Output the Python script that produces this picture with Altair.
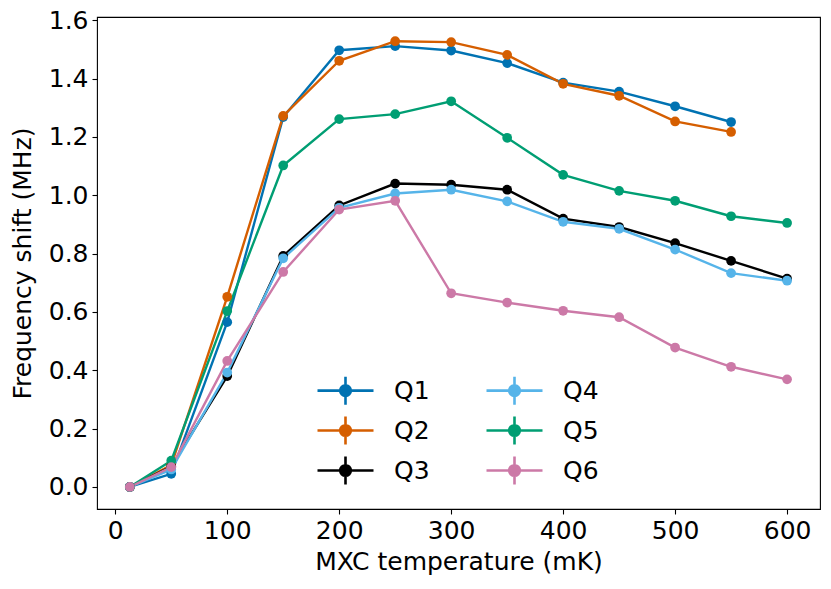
import altair as alt
import pandas as pd

temps = [13, 50, 100, 150, 200, 250, 300, 350, 400, 450, 500, 550, 600]
q1 = [0.0, 0.045, 0.565, 1.268, 1.497, 1.511, 1.496, 1.453, 1.386, 1.355, 1.305, 1.251]
q2 = [0.0, 0.075, 0.652, 1.272, 1.461, 1.528, 1.525, 1.481, 1.382, 1.341, 1.253, 1.217]
q3 = [0.0, 0.07, 0.380, 0.792, 0.965, 1.040, 1.036, 1.019, 0.920, 0.891, 0.836, 0.775, 0.714]
q4 = [0.0, 0.06, 0.392, 0.784, 0.957, 1.006, 1.019, 0.979, 0.909, 0.885, 0.814, 0.733, 0.707]
q5 = [0.0, 0.090, 0.603, 1.102, 1.261, 1.278, 1.322, 1.197, 1.070, 1.015, 0.981, 0.928, 0.905]
q6 = [0.0, 0.068, 0.432, 0.737, 0.951, 0.981, 0.664, 0.632, 0.604, 0.582, 0.478, 0.412, 0.369]

names = ["Q1", "Q2", "Q3", "Q4", "Q5", "Q6"]
colors = ["#0072B2", "#D55E00", "#000000", "#56B4E9", "#009E73", "#CC79A7"]
series = [q1, q2, q3, q4, q5, q6]

rows = []
for i, (n, vals) in enumerate(zip(names, series)):
    for j, v in enumerate(vals):
        rows.append({"T": temps[j], "shift": v, "q": n, "k": i * 100 + j})
df = pd.DataFrame(rows)

FONT = "DejaVu Sans"
scale = alt.Scale(domain=names, range=colors)
sym = ("M-2,0H2M0,-1V1M0.38,0A0.38,0.38,0,1,1,-0.38,0A0.38,0.38,0,1,1,0.38,0Z")
leg = alt.Legend(
    title=None, orient="none", legendX=233, legendY=358, columns=2,
    symbolType=sym, symbolSize=784, symbolStrokeWidth=2.6,
    labelFont=FONT, labelFontSize=25, labelColor="black", labelOffset=33,
    columnPadding=51, rowPadding=1, padding=0, symbolOpacity=1,
)

x = alt.X("T:Q", scale=alt.Scale(domain=[-16.3, 629.4], nice=False, zero=False),
          axis=alt.Axis(values=[0, 100, 200, 300, 400, 500, 600],
                        title="MXC temperature (mK)", format="d"))
y = alt.Y("shift:Q", scale=alt.Scale(domain=[-0.0755, 1.611], nice=False, zero=False),
          axis=alt.Axis(values=[0, 0.2, 0.4, 0.6, 0.8, 1.0, 1.2, 1.4, 1.6],
                        title="Frequency shift (MHz)", format=".1f"))

base = alt.Chart(df)
lines = base.mark_line(strokeWidth=2.4).encode(
    x=x, y=y,
    stroke=alt.Stroke("q:N", scale=scale, legend=leg),
    detail="q:N", order="k:Q",
)
points = base.mark_point(filled=True, size=95, opacity=1, strokeWidth=0).encode(
    x=x, y=y,
    fill=alt.Fill("q:N", scale=scale, legend=leg),
    stroke=alt.Stroke("q:N", scale=scale, legend=leg),
    order="k:Q",
)

chart = alt.layer(lines, points).properties(
    width=723, height=492,
    autosize=alt.AutoSizeParams(type="none"),
    padding={"left": 89, "top": 9, "right": 3, "bottom": 72},
).configure_view(
    stroke="black", strokeWidth=1.1
).configure_axis(
    labelFont=FONT, labelFontSize=25, labelColor="black",
    titleFont=FONT, titleFontSize=25, titleColor="black", titleFontWeight="normal",
    grid=False, domain=False, ticks=True, tickColor="black", tickSize=5, tickWidth=1.1,
    labelPadding=4,
).configure_axisX(titlePadding=6).configure_axisY(titlePadding=13)

chart.save("out.html", embed_options={"renderer": "svg", "actions": False})
